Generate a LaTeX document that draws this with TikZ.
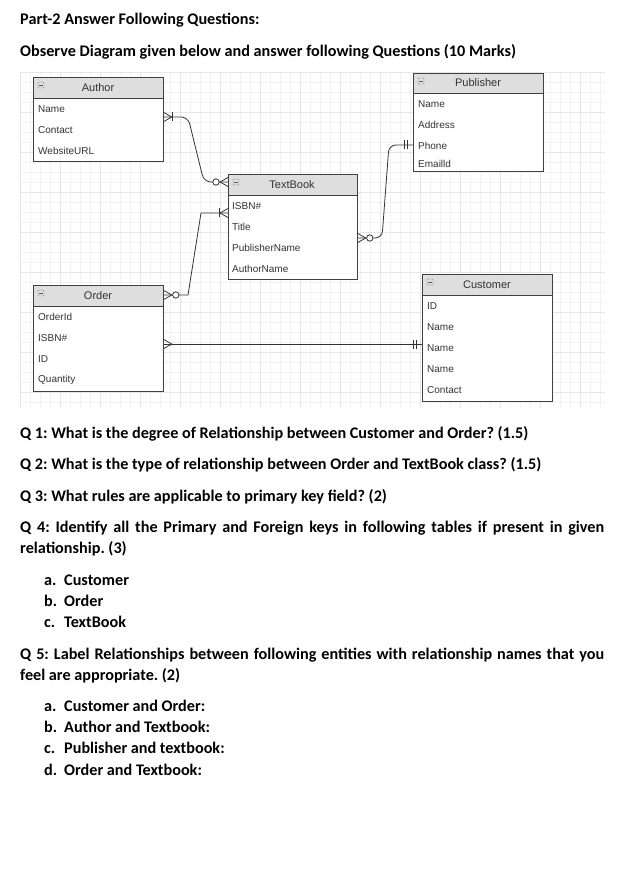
\documentclass[tikz,border=0pt]{standalone}
\usepackage{fontspec}
\usetikzlibrary{calc}
\setmainfont{Carlito}
\newfontfamily\arialf{Liberation Sans}
\definecolor{gridminor}{HTML}{F2F2F2}
\definecolor{gridmajor}{HTML}{E6E6E6}
\definecolor{hdrfill}{HTML}{DEDEDE}
\definecolor{boxline}{HTML}{404040}
\definecolor{etext}{HTML}{333333}
\frenchspacing
\begin{document}
\begin{tikzpicture}[x=1pt,y=-1pt,
  qtext/.style={font=\fontsize{16.2}{21}\selectfont\bfseries, inner sep=0pt, anchor=base west},
  ebox/.style={draw=boxline, line width=0.8pt, fill=white, inner sep=0pt, anchor=north west},
  hdr/.style={draw=boxline, line width=0.8pt, fill=hdrfill},
  htitle/.style={font=\arialf\fontsize{11}{13}\selectfont, text=etext, inner sep=0pt},
  rowtext/.style={font=\arialf\fontsize{10}{12}\selectfont, text=etext, inner sep=0pt, anchor=west},
  conn/.style={draw=black!80, line width=0.8pt},
  crowmany/.pic={\draw[conn] (0,-4.5) -- (8,0) -- (0,4.5);},
  zeromany/.pic={\draw[conn] (0,-4.5) -- (8,0) -- (0,4.5); \draw[conn, fill=white] (12,0) circle[radius=3.2pt];},
  onemany/.pic={\draw[conn] (0,-4.5) -- (8,0) -- (0,4.5); \draw[conn] (9,-4.5) -- (9,4.5);},
  oneone/.pic={\draw[conn] (6,-4.5) -- (6,4.5); \draw[conn] (9,-4.5) -- (9,4.5);},
  minusicon/.pic={\draw[gray, fill=gray!25, line width=0.4pt, rounded corners=0.8pt] (0,0) rectangle (6,6); \draw[gray!70!black, line width=0.6pt] (1.3,3) -- (4.7,3);}
]
\useasboundingbox (0,0) rectangle (625,882);
\fill[white] (0,0) rectangle (625,882);

% grid
\foreach \x in {20,30,...,600} \draw[gridminor, line width=0.5pt] (\x,72) -- (\x,408);
\foreach \y in {72,82,...,402} \draw[gridminor, line width=0.5pt] (20,\y) -- (605,\y);
\foreach \x in {20,60,...,600} \draw[gridmajor, line width=0.5pt] (\x,72) -- (\x,408);
\foreach \y in {72,112,...,402} \draw[gridmajor, line width=0.5pt] (20,\y) -- (605,\y);

% headings
\node[qtext] (t1) at (20,25) {Part-2 Answer Following Questions:};
\node[qtext] (t2) at (20,57) {Observe Diagram given below and answer following Questions (10 Marks)};

% Author
\node[ebox, minimum width=130pt, minimum height=84pt] (author) at (33,77) {};
\draw[hdr] (author.north west) rectangle ++(130,21);
\pic at ($(author.north west)+(5,5)$) {minusicon};
\node[htitle] (authort) at (98,88) {Author};
\node[rowtext] (a1) at (38,109) {Name};
\node[rowtext] (a2) at (38,130) {Contact};
\node[rowtext] (a3) at (38,151) {WebsiteURL};

% Publisher
\node[ebox, minimum width=130pt, minimum height=98pt] (pub) at (413,73) {};
\draw[hdr] (pub.north west) rectangle ++(130,20);
\pic at ($(pub.north west)+(5,5)$) {minusicon};
\node[htitle] (pubt) at (478,83) {Publisher};
\node[rowtext] (p1) at (418,104) {Name};
\node[rowtext] (p2) at (418,125) {Address};
\node[rowtext] (p3) at (418,146) {Phone};
\node[rowtext] (p4) at (418,164) {Emailld};

% TextBook
\node[ebox, minimum width=129pt, minimum height=105pt] (tb) at (228,174) {};
\draw[hdr] (tb.north west) rectangle ++(129,21);
\pic at ($(tb.north west)+(5,5)$) {minusicon};
\node[htitle] (tbt) at (292,185) {TextBook};
\node[rowtext] (b1) at (232,206) {ISBN\#};
\node[rowtext] (b2) at (232,227) {Title};
\node[rowtext] (b3) at (232,248) {PublisherName};
\node[rowtext] (b4) at (232,269) {AuthorName};

% Order
\node[ebox, minimum width=130pt, minimum height=106pt] (order) at (33,285) {};
\draw[hdr] (order.north west) rectangle ++(130,21);
\pic at ($(order.north west)+(5,5)$) {minusicon};
\node[htitle] (ordert) at (98,296) {Order};
\node[rowtext] (o1) at (38,317) {OrderId};
\node[rowtext] (o2) at (38,338) {ISBN\#};
\node[rowtext] (o3) at (38,359) {ID};
\node[rowtext] (o4) at (38,380) {Quantity};

% Customer
\node[ebox, minimum width=130pt, minimum height=127pt] (cust) at (422,274) {};
\draw[hdr] (cust.north west) rectangle ++(130,21);
\pic at ($(cust.north west)+(5,5)$) {minusicon};
\node[htitle] (custt) at (487,285) {Customer};
\node[rowtext] (c1) at (427,306) {ID};
\node[rowtext] (c2) at (427,327) {Name};
\node[rowtext] (c3) at (427,348) {Name};
\node[rowtext] (c4) at (427,369) {Name};
\node[rowtext] (c5) at (427,390) {Contact};

% connectors
\draw[conn, rounded corners=7pt] (author.east |- 0,117) -- (188,117) -- (204,182) -- (tb.west |- 0,182);
\draw[conn, rounded corners=7pt] (pub.west |- 0,145) -- (389,145) -- (382,238) -- (tb.east |- 0,238);
\draw[conn] (order.east |- 0,295) -- (188,295) -- (201,213) -- (tb.west |- 0,213);
\draw[conn] (order.east |- 0,344) -- (cust.west |- 0,344);

\pic at (author.east |- 0,117) {onemany};
\pic[rotate=180] at (tb.west |- 0,182) {zeromany};
\pic[rotate=180] at (pub.west |- 0,145) {oneone};
\pic at (tb.east |- 0,238) {zeromany};
\pic at (order.east |- 0,295) {zeromany};
\pic[rotate=180] at (tb.west |- 0,213) {onemany};
\pic at (order.east |- 0,344) {crowmany};
\pic[rotate=180] at (cust.west |- 0,344) {oneone};

% questions
\node[qtext] (q1) at (20,438) {Q 1: What is the degree of Relationship between Customer and Order? (1.5)};
\node[qtext] (q2) at (20,469) {Q 2: What is the type of relationship between Order and TextBook class? (1.5)};
\node[qtext] (q3) at (20,501) {Q 3: What rules are applicable to primary key field? (2)};
\node[qtext] (q4) at (20,532) {\makebox[584pt][s]{Q 4: Identify all the Primary and Foreign keys in following tables if present in given}};
\node[qtext] (q4b) at (20,553) {relationship. (3)};
\node[qtext] (l1a) at (44,585) {a.};
\node[qtext] (l1) at (64,585) {Customer};
\node[qtext] (l2a) at (44,606) {b.};
\node[qtext] (l2) at (64,606) {Order};
\node[qtext] (l3a) at (44,627) {c.};
\node[qtext] (l3) at (64,627) {TextBook};
\node[qtext] (q5) at (20,659) {\makebox[584pt][s]{Q 5: Label Relationships between following entities with relationship names that you}};
\node[qtext] (q5b) at (20,680) {feel are appropriate. (2)};
\node[qtext] (m1a) at (44,711) {a.};
\node[qtext] (m1) at (64,711) {Customer and Order:};
\node[qtext] (m2a) at (44,732) {b.};
\node[qtext] (m2) at (64,732) {Author and Textbook:};
\node[qtext] (m3a) at (44,753) {c.};
\node[qtext] (m3) at (64,753) {Publisher and textbook:};
\node[qtext] (m4a) at (44,775) {d.};
\node[qtext] (m4) at (64,775) {Order and Textbook:};
\end{tikzpicture}
\end{document}
